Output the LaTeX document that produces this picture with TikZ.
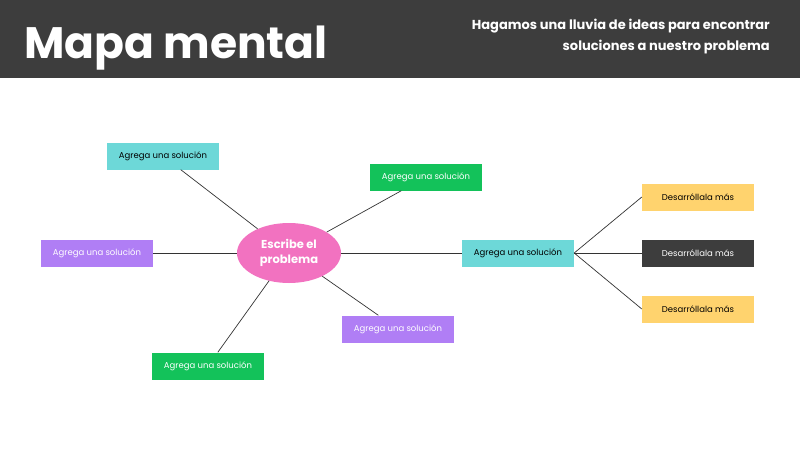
\documentclass[tikz,border=0pt]{standalone}
\usepackage{fontspec}
\setmainfont{Poppins}
\usetikzlibrary{shapes.geometric}
\definecolor{hdr}{HTML}{3D3D3D}
\definecolor{cy}{HTML}{6DD8D8}
\definecolor{gr}{HTML}{13C25A}
\definecolor{pu}{HTML}{B07EF5}
\definecolor{pk}{HTML}{F272C0}
\definecolor{ye}{HTML}{FFD36E}
\tikzset{
 box/.style={minimum width=112pt,minimum height=27pt,inner sep=0pt,font=\fontsize{8.5}{10}\selectfont},
 link/.style={draw=black!80,line width=0.7pt}
}
\begin{document}
\begin{tikzpicture}[x=1pt,y=-1pt]
\useasboundingbox (0,0) rectangle (800,450);
\fill[white] (0,0) rectangle (800,450);
\fill[hdr] (0,0) rectangle (800,78);
\node[anchor=base west,text=white,font=\fontsize{44}{48}\selectfont\bfseries,inner sep=0pt] (title) at (24,58) {Mapa mental};
\node[anchor=north east,align=right,text=white,font=\fontsize{13}{21}\selectfont\bfseries,inner sep=0pt] (sub) at (770,19) {Hagamos una lluvia de ideas para encontrar\\soluciones a nuestro problema};
\node[ellipse,fill=pk,minimum width=104pt,minimum height=60pt,inner sep=0pt,align=center,text=white,font=\fontsize{11.5}{15}\selectfont\bfseries] (c) at (289,253) {Escribe el\\problema};
\node[box,fill=cy] (a1) at (163,156) {Agrega una solución};
\node[box,fill=gr,text=white] (a2) at (426,177) {Agrega una solución};
\node[box,fill=pu,text=white] (a3) at (97,253) {Agrega una solución};
\node[box,fill=cy] (a4) at (518,253) {Agrega una solución};
\node[box,fill=pu,text=white] (a5) at (398,329) {Agrega una solución};
\node[box,fill=gr,text=white] (a6) at (208,366) {Agrega una solución};
\node[box,fill=ye] (d1) at (698,197) {Desarróllala más};
\node[box,fill=hdr,text=white] (d2) at (698,253) {Desarróllala más};
\node[box,fill=ye] (d3) at (698,309) {Desarróllala más};
\draw[link] (c) -- (a1);
\draw[link] (c) -- (a2);
\draw[link] (c) -- (a3);
\draw[link] (c) -- (a4);
\draw[link] (c) -- (a5);
\draw[link] (c) -- (a6);
\draw[link] (a4.east) -- (d1.west);
\draw[link] (a4.east) -- (d2.west);
\draw[link] (a4.east) -- (d3.west);
\end{tikzpicture}
\end{document}
